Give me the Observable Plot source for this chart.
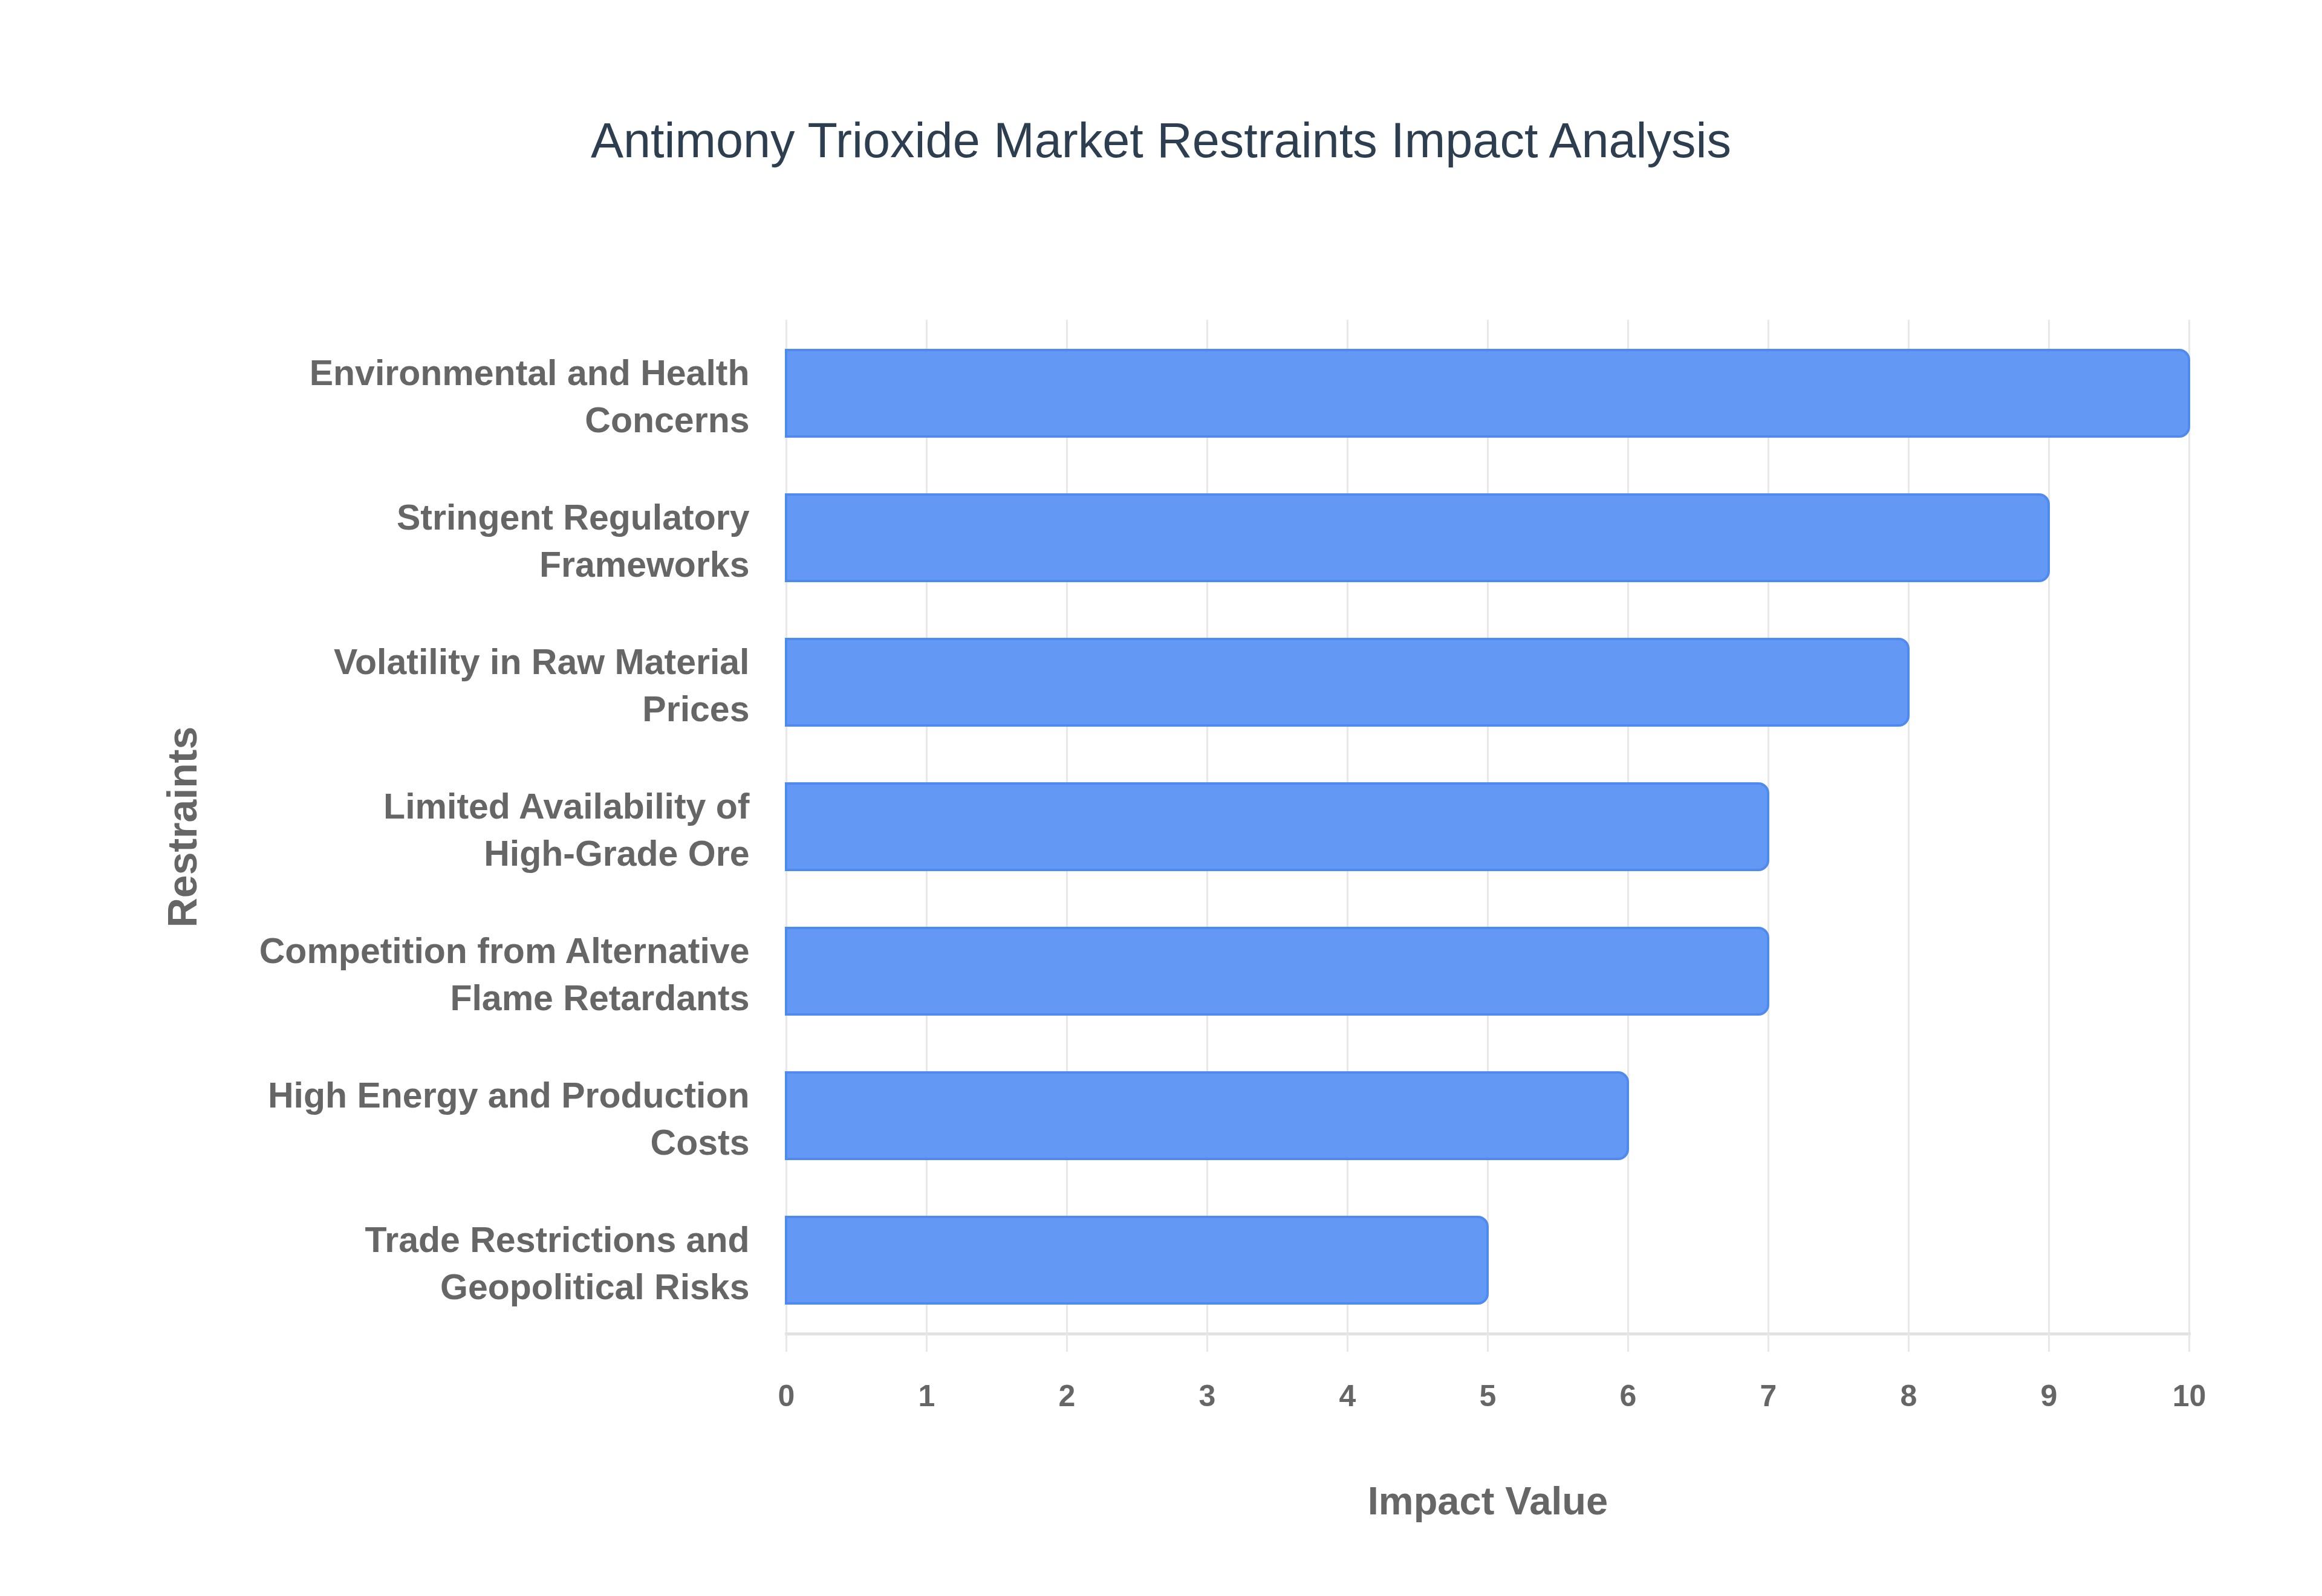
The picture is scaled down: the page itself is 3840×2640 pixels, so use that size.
<!DOCTYPE html>
<html><head><meta charset="utf-8">
<script src="https://cdn.jsdelivr.net/npm/d3@7"></script>
<script src="https://cdn.jsdelivr.net/npm/@observablehq/plot@0.6"></script>
<style>
body{margin:0;background:#fff;}
#title{height:464px;display:flex;align-items:center;justify-content:center;font-family:"Liberation Sans",Arial,sans-serif;font-size:81px;color:#2c3e50;}
</style></head><body>
<div id="title">Antimony Trioxide Market Restraints Impact Analysis</div>
<div id="chart"></div>
<script>
const restraints = [
  "Environmental and Health Concerns",
  "Stringent Regulatory Frameworks",
  "Volatility in Raw Material Prices",
  "Limited Availability of High-Grade Ore",
  "Competition from Alternative Flame Retardants",
  "High Energy and Production Costs",
  "Trade Restrictions and Geopolitical Risks"
];
const labelLines = [
  "Environmental and Health\nConcerns",
  "Stringent Regulatory\nFrameworks",
  "Volatility in Raw Material\nPrices",
  "Limited Availability of\nHigh-Grade Ore",
  "Competition from Alternative\nFlame Retardants",
  "High Energy and Production\nCosts",
  "Trade Restrictions and\nGeopolitical Risks"
];
const impact = [10, 9, 8, 7, 7, 6, 5];
const xTicks = [0, 1, 2, 3, 4, 5, 6, 7, 8, 9, 10];

const data = restraints.map((r, i) => ({restraint: r, impact: impact[i]}));
const labelMap = new Map(restraints.map((r, i) => [r, labelLines[i]]));
const font = '"Liberation Sans", Arial, sans-serif';

const chart = Plot.plot({
  width: 3840,
  height: 2176,
  marginTop: 65,
  marginBottom: 434,
  marginLeft: 1300,
  marginRight: 220,
  style: {fontFamily: font, background: "#fff"},
  x: {domain: [0, 10]},
  y: {domain: restraints, paddingInner: 0.4, paddingOuter: 0.2},
  marks: [
    Plot.gridX(xTicks, {stroke: "#e8e8e8", strokeOpacity: 1, strokeWidth: 3}),
    Plot.frame({anchor: "bottom", stroke: "#e2e2e2", strokeWidth: 5}),
    Plot.axisX(xTicks, {tickSize: 30, stroke: "#e8e8e8", strokeWidth: 3, tickPadding: 54, fontSize: 50, fontWeight: "bold", fill: "#666", tickFormat: d3.format("d"), label: null}),
    Plot.axisX({ticks: [], tickSize: 0, fontSize: 65, fontWeight: "bold", fill: "#666", label: "Impact Value", labelAnchor: "center", labelOffset: 298, labelArrow: "none"}),
    Plot.axisY({tickSize: 0, tickPadding: 61, fontSize: 59, fontWeight: "bold", fill: "#666", lineHeight: 1.32, tickFormat: d => labelMap.get(d), label: null}),
    Plot.axisY({ticks: [], tickSize: 0, fontSize: 68, fontWeight: "bold", fill: "#666", label: "Restraints", labelAnchor: "center", labelOffset: 1024, labelArrow: "none"}),
    Plot.barX(data, {x: "impact", y: "restraint", fill: "#6399f4", stroke: "#4f8af0", strokeWidth: 4, rx2: 16})
  ]
});
document.getElementById("chart").appendChild(chart);
</script>
</body></html>
